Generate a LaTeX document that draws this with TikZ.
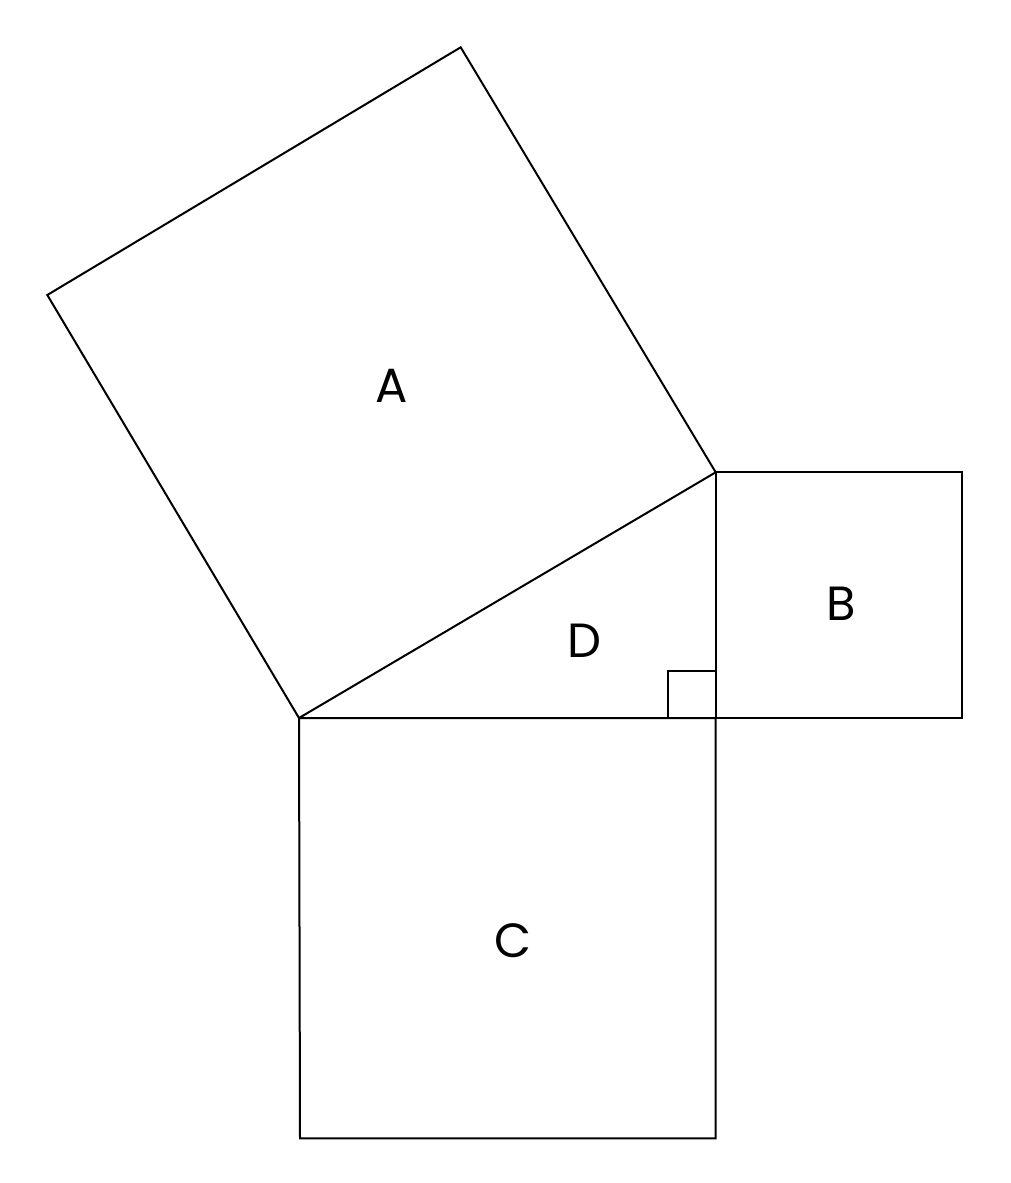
\documentclass[tikz,border=0pt]{standalone}
\usepackage{fontspec}
\setmainfont{Poppins}
\begin{document}
\begin{tikzpicture}[x=1pt,y=-1pt,
  edge/.style={line width=2pt,black,line join=miter},
  lbl/.style={font=\fontsize{48}{48}\selectfont,inner sep=0pt,anchor=center}]
\useasboundingbox (0,0) rectangle (1010,1183);
% triangle vertices
\coordinate (P) at (299,718);
\coordinate (R) at (715.7,718);
\coordinate (T) at (715.7,472.3);
% square A
\coordinate (A1) at (460.7,47.3);
\coordinate (A2) at (47.3,295);
% square B
\coordinate (B1) at (962.3,472.3);
\coordinate (B2) at (962.3,718);
% square C
\coordinate (C1) at (715.7,1138.3);
\coordinate (C2) at (300,1138.3);
% right angle mark
\coordinate (M1) at (668.3,718);
\coordinate (M2) at (668.3,671);
\coordinate (M3) at (715.7,671);
\draw[edge] (P) -- (T) -- (A1) -- (A2) -- cycle;
\draw[edge] (T) -- (B1) -- (B2) -- (R);
\draw[edge] (P) -- (R) -- (C1) -- (C2) -- cycle;
\draw[edge] (T) -- (R);
\draw[edge] (M1) -- (M2) -- (M3);
\node[lbl] (la) at (392,386) {A};
\node[lbl] (lb) at (841,604) {B};
\node[lbl] (ld) at (584,641) {D};
\node[lbl] (lc) at (513,941) {C};
\end{tikzpicture}
\end{document}
